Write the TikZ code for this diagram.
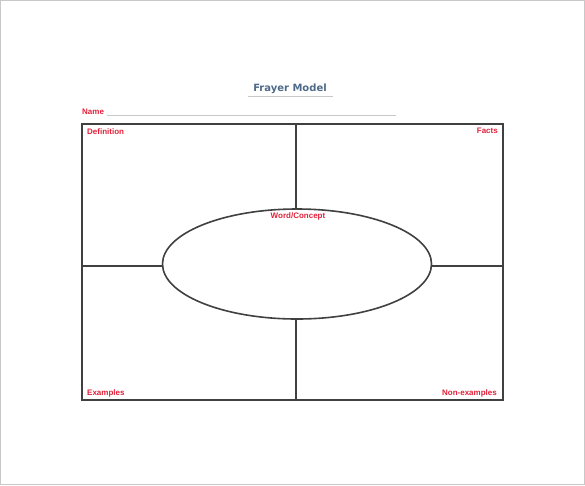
\documentclass[tikz,border=0pt]{standalone}
\usepackage{fontspec}
\setmainfont{Liberation Sans}
\newfontfamily\titlefont{DejaVu Sans}
\usetikzlibrary{shapes.geometric}
\definecolor{frame}{HTML}{404040}
\definecolor{labelred}{HTML}{E2203A}
\definecolor{titleblue}{HTML}{4E6A88}
\definecolor{rule}{HTML}{C8C8C8}
\tikzset{
	quadlabel/.style = {inner sep = 0pt, font = \fontsize{8}{9}\selectfont\bfseries, text = labelred},
	frameline/.style = {frame, line width = 2.6pt}
}

\begin{document}
\begin{tikzpicture}[x = 1pt, y = -1pt]
\useasboundingbox (0,0) rectangle (585,485);
\draw[rule, line width = 1pt] (0.5,0.5) rectangle (584.5,484.5);

% title and name line
\node[inner sep = 0pt, font = \titlefont\fontsize{10}{12}\selectfont\bfseries, text = titleblue] (title) at (290,89) {Frayer Model};
\draw[rule, line width = 0.8pt] (title.south west) ++(-5,2) -- ++(85,0);
\node[quadlabel, anchor = base west] (name) at (82,114) {Name};
\coordinate (namestart) at (107,115);
\coordinate (nameend) at (396,115);
\draw[rule, line width = 0.8pt] (namestart) -- (nameend);

% frame
\coordinate (tl) at (82,124);
\coordinate (br) at (503,400);
\draw[frameline] (tl) rectangle (br);
\coordinate (top) at (296,124);
\coordinate (bottom) at (296,400);
\coordinate (left) at (82,266);
\coordinate (right) at (503,266);

\node[ellipse, draw = frame, line width = 1.6pt, minimum width = 269pt, minimum height = 110pt] (word) at (297,264) {};
\draw[frameline] (top) -- (word.north -| top);
\draw[frameline] (word.south -| bottom) -- (bottom);
\draw[frameline] (left) -- (word.west |- left);
\draw[frameline] (word.east |- right) -- (right);

% labels
\node[quadlabel, anchor = north west] (definition) at (87,128) {Definition};
\node[quadlabel, anchor = north east] (facts) at (498,128) {Facts};
\node[quadlabel, anchor = north] (concept) at (298,212) {Word/Concept};
\node[quadlabel, anchor = base west] (examples) at (87,395) {Examples};
\node[quadlabel, anchor = base east] (nonexamples) at (497,395) {Non-examples};

\end{tikzpicture}
\end{document}
